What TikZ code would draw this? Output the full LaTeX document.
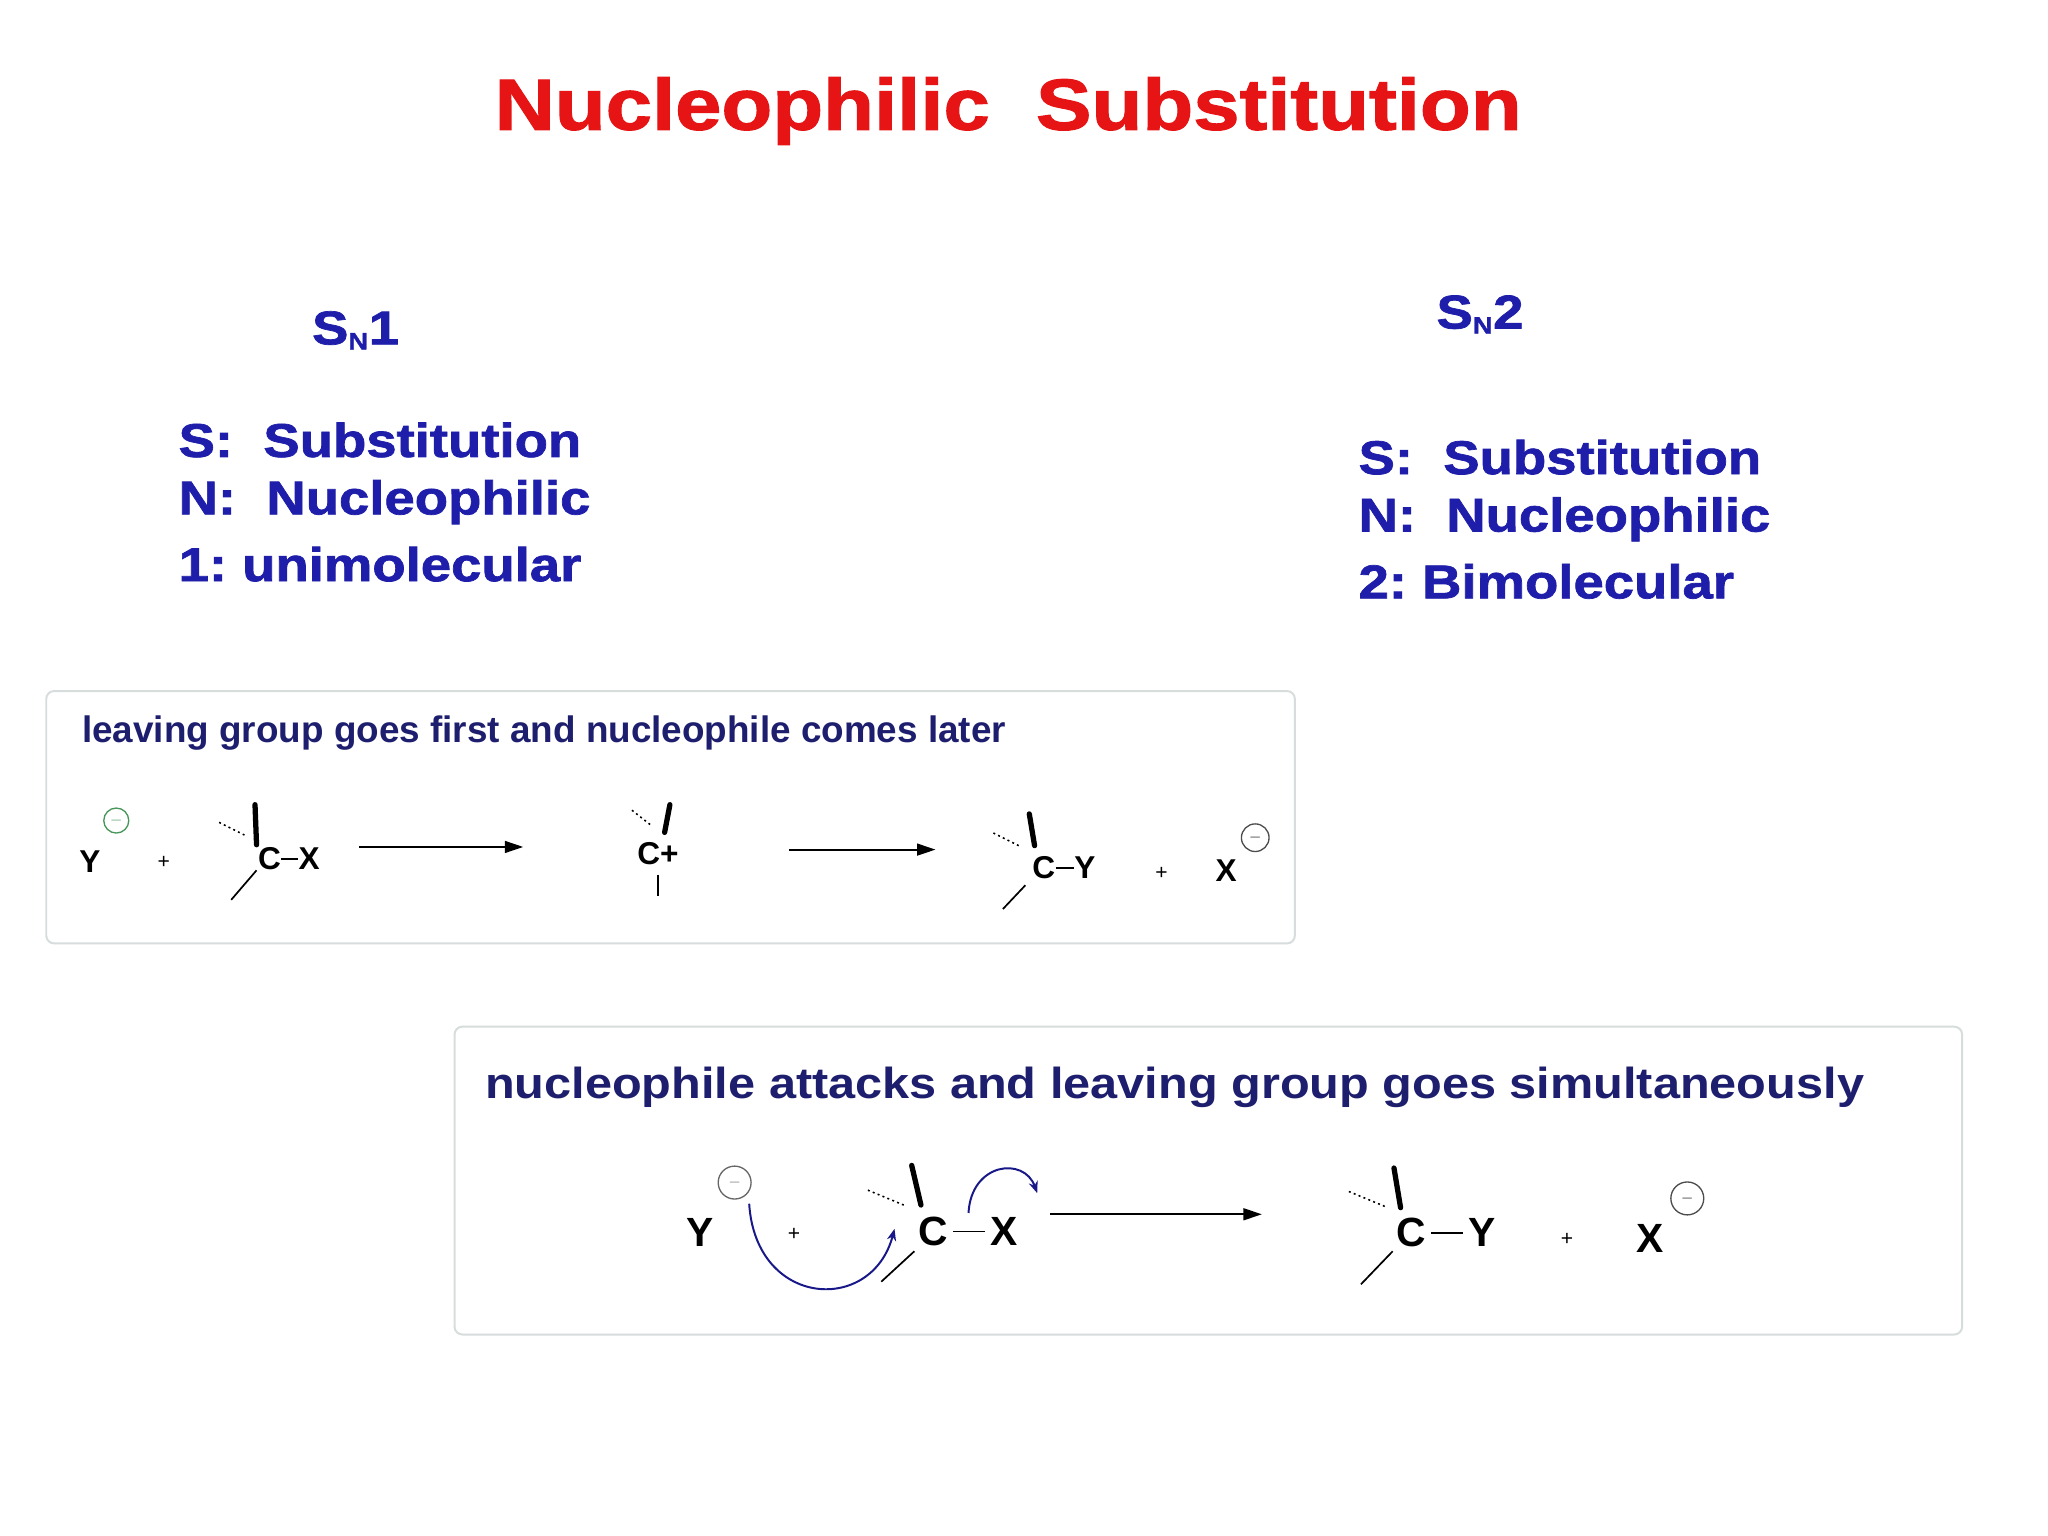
\documentclass[tikz,border=0pt]{standalone}
\usepackage{fontspec}
\setmainfont{Liberation Sans}
\newfontfamily\heavy[FakeStretch=1.15,FakeBold=1.5]{Liberation Sans}
\newfontfamily\wide[FakeStretch=1.12]{Liberation Sans}
\usetikzlibrary{arrows.meta}
\definecolor{navy}{RGB}{30,30,170}
\definecolor{dnavy}{RGB}{30,30,110}
\definecolor{tred}{RGB}{230,20,20}
\definecolor{bx}{RGB}{215,220,220}
\definecolor{mgreen}{RGB}{70,150,90}
\tikzset{
 ttl/.style={font=\heavy\fontsize{55}{60}\selectfont\bfseries, text=tred},
 hdr/.style={font=\heavy\fontsize{36}{40}\selectfont\bfseries, text=navy, anchor=west, inner sep=0},
 lbl/.style={font=\fontsize{28}{30}\selectfont\bfseries, text=dnavy, anchor=west, inner sep=0},
 lbl2/.style={font=\wide\fontsize{33}{36}\selectfont\bfseries, text=dnavy, anchor=west, inner sep=0},
 box/.style={draw=bx, line width=1.5pt, rounded corners=6pt},
 at1/.style={font=\fontsize{24}{26}\selectfont\bfseries, inner sep=0},
 at2/.style={font=\fontsize{31}{34}\selectfont\bfseries, inner sep=0},
 pl/.style={font=\fontsize{16}{18}\selectfont, inner sep=0},
 bond/.style={line width=1.3pt},
 wedge/.style={line width=4pt, line cap=round},
 hash/.style={line width=1.2pt, dash pattern=on 1.5pt off 2.5pt},
 rxn/.style={line width=1.5pt, -{Triangle[length=14pt,width=9pt]}},
 charge/.style={circle, draw, line width=1pt, minimum size=#1, inner sep=0, font=\bfseries\fontsize{12}{12}\selectfont},
 curly/.style={draw=navy!80!black, line width=1.5pt, -{Stealth[length=9pt,width=7pt]}}
}
\begin{document}
\begin{tikzpicture}[x=1bp,y=-1bp]
\useasboundingbox[fill=white] (0,0) rectangle (1550,1162);
\node[ttl] (title) at (763,84) {Nucleophilic\ \ Substitution};
% SN1
\node[hdr] (sn1) at (236,250) {S\textsubscript{\fontsize{18}{18}\selectfont N}1};
\node[hdr] (a1) at (135,333) {S:\ \ Substitution};
\node[hdr] (a2) at (135,380) {N:\ \ Nucleophilic};
\node[hdr] (a3) at (135,427) {1:\ unimolecular};
% SN2
\node[hdr] (sn2) at (1087,238) {S\textsubscript{\fontsize{18}{18}\selectfont N}2};
\node[hdr] (b1) at (1028,346) {S:\ \ Substitution};
\node[hdr] (b2) at (1028,393) {N:\ \ Nucleophilic};
\node[hdr] (b3) at (1028,440) {2:\ Bimolecular};
% box 1
\draw[box] (35,523) rectangle (980,714);
\node[lbl] (t1) at (62,555) {leaving group goes first and nucleophile comes later};
\node[at1] (y1) at (68,652) {Y};
\node[charge=19pt, draw=mgreen, text=mgreen] (c1) at (88,621) {$-$};
\node[pl] (p1) at (124,653) {+};
\node[at1] (cA) at (204,650) {C};
\node[at1] (xA) at (234,650) {X};
\draw[bond] (cA.east) -- (xA.west);
\draw[wedge] (cA.north west) ++(-1,-2) -- (193,609);
\draw[hash] (185,632) -- (165,622);
\draw[bond] (cA.south west) ++(-1,0) -- (175,681);
\draw[rxn] (272,641) -- (396,641);
\node[at1] (cB) at (498,646) {C+};
\draw[wedge] (503,630) -- (507,609);
\draw[hash] (492,624) -- (478,613);
\draw[bond] (498,662) -- (498,678);
\draw[rxn] (597,643) -- (708,643);
\node[at1] (cC) at (790,657) {C};
\node[at1] (yC) at (821,657) {Y};
\draw[bond] (cC.east) -- (yC.west);
\draw[wedge] (783,640) -- (779,616);
\draw[hash] (771,640) -- (751,630);
\draw[bond] (776,670) -- (759,688);
\node[pl] (p2) at (879,661) {+};
\node[at1] (xC) at (928,659) {X};
\node[charge=21pt, draw=black!70] (c2) at (950,634) {$-$};
% box 2
\draw[box] (344,777) rectangle (1485,1010);
\node[lbl2] (t2) at (367,823) {nucleophile attacks and leaving group goes simultaneously};
\node[at2] (y2) at (530,933) {Y};
\node[charge=25pt, draw=black!60, text=black!60] (c3) at (556,895) {$-$};
\node[pl] (p3) at (601,934) {+};
\node[at2] (cD) at (706,932) {C};
\node[at2] (xD) at (760,932) {X};
\draw[bond] (cD.east) ++(4,0) -- ([xshift=-4]xD.west);
\draw[wedge] (697,912) -- (690,882);
\draw[hash] (684,912) -- (655,900);
\draw[bond] (692,947) -- (667,970);
\draw[curly] (567,911) .. controls (572,990) and (660,995) .. (677,930);
\draw[curly] (733,918) .. controls (735,880) and (775,875) .. (785,903);
\draw[rxn] (795,919) -- (955,919);
\node[at2] (cE) at (1068,933) {C};
\node[at2] (yE) at (1122,933) {Y};
\draw[bond] (cE.east) ++(4,0) -- ([xshift=-4]yE.west);
\draw[wedge] (1060,914) -- (1055,884);
\draw[hash] (1048,913) -- (1019,901);
\draw[bond] (1054,947) -- (1030,972);
\node[pl] (p4) at (1186,938) {+};
\node[at2] (xE) at (1249,937) {X};
\node[charge=25pt, draw=black!70] (c4) at (1277,907) {$-$};
\end{tikzpicture}
\end{document}
